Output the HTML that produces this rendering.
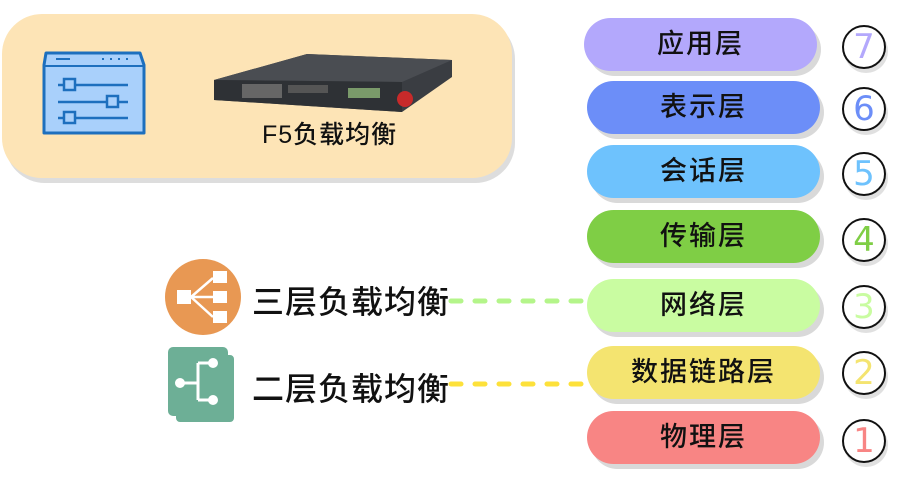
<!DOCTYPE html>
<html><head><meta charset="utf-8"><style>
body{margin:0;width:902px;height:478px;background:#fff;position:relative;overflow:hidden;font-family:"Liberation Sans","Noto Sans CJK SC",sans-serif}
.a{position:absolute}
.pill{position:absolute;width:233px;height:53px;border-radius:27px;box-shadow:4px 5px 0 #d9d9d9;text-align:center;line-height:53px;font-size:27px;font-weight:500;color:#111;letter-spacing:2px}
.c{position:absolute;width:40px;height:40px;border:2px solid #111;border-radius:50%;box-shadow:2px 4px 0 #e0e0e0;text-align:center;line-height:40px;font-size:34px;font-family:"DejaVu Sans",sans-serif;background:#fff}
.t{position:absolute;font-size:32px;font-weight:500;color:#111;letter-spacing:1px}
</style></head><body>
<div class="a" style="left:2px;top:14px;width:510px;height:164px;border-radius:40px;background:#fde4b6;box-shadow:3px 5px 0 #ddd"></div>
<svg class="a" style="left:40px;top:45px" width="112" height="95">
<path d="M6 8 L100 8 L104 20 L104 88 L4 88 L4 20 Z" fill="#a9d0fb" stroke="#1d6fbe" stroke-width="3" stroke-linejoin="round"/>
<path d="M4 21 L104 21" stroke="#1d6fbe" stroke-width="2"/>
<path d="M16 14h14M62 14h2M70 14h2M78 14h2M86 14h2" stroke="#1d6fbe" stroke-width="2"/>
<path d="M18 40h70M18 57h70M18 73h70" stroke="#1d6fbe" stroke-width="2.5"/>
<rect x="24" y="34" width="11" height="11" fill="#a9d0fb" stroke="#1d6fbe" stroke-width="2.5"/>
<rect x="67" y="51" width="11" height="11" fill="#a9d0fb" stroke="#1d6fbe" stroke-width="2.5"/>
<rect x="24" y="67" width="11" height="11" fill="#a9d0fb" stroke="#1d6fbe" stroke-width="2.5"/>
</svg>
<svg class="a" style="left:212px;top:52px" width="245" height="62">
<polygon points="2,28 95,2 240,8 240,25 190,60 2,48" fill="#3a3d42"/>
<polygon points="2,28 95,2 240,8 190,30" fill="#4a4d52"/>
<polygon points="2,28 190,30 190,60 2,48" fill="#2e3135"/>
<rect x="30" y="32" width="40" height="14" fill="#666"/><rect x="76" y="33" width="40" height="8" fill="#555"/>
<rect x="136" y="36" width="32" height="10" fill="#7a9a6a"/>
<circle cx="193" cy="47" r="8" fill="#c82a2a"/>
</svg>
<div class="a" style="left:262px;top:115px;font-size:25px;font-weight:500;color:#111;letter-spacing:1px">F5负载均衡</div>

<svg class="a" style="left:163px;top:258px" width="80" height="80">
<circle cx="40" cy="39" r="38" fill="#e89853"/>
<rect x="14" y="32" width="14" height="14" fill="#fff"/>
<rect x="50" y="13" width="14" height="12" fill="#fff"/><rect x="50" y="33" width="14" height="12" fill="#fff"/><rect x="50" y="53" width="14" height="12" fill="#fff"/>
<path d="M28 39 L50 20 M28 39 L50 39 M28 39 L50 59" stroke="#fff" stroke-width="2.5"/>
</svg>
<svg class="a" style="left:166px;top:345px" width="72" height="82">
<rect x="9" y="9" width="60" height="69" rx="5" fill="#6daf96"/>
<rect x="9" y="9" width="60" height="69" rx="5" fill="none" stroke="#fff" stroke-width="2"/>
<rect x="2" y="2" width="60" height="69" rx="5" fill="#6daf96"/>
<circle cx="14" cy="38" r="5" fill="#fff"/><circle cx="47" cy="18" r="5" fill="#fff"/><circle cx="47" cy="55" r="5" fill="#fff"/>
<path d="M14 38H32M32 18V55M32 18H47M32 55H47" stroke="#fff" stroke-width="3" fill="none"/>
</svg>
<div class="t" style="left:252px;top:277px">三层负载均衡</div>
<div class="t" style="left:252px;top:364px">二层负载均衡</div>
<svg class="a" style="left:445px;top:290px" width="145" height="105">
<path d="M6 11H140" stroke="#b4f58a" stroke-width="5" stroke-linecap="round" stroke-dasharray="10 14"/>
<path d="M6 94H140" stroke="#fde13a" stroke-width="5" stroke-linecap="round" stroke-dasharray="10 14"/>
</svg>

<div class="pill" style="left:584px;top:18px;background:#b3a8fc">应用层</div>
<div class="pill" style="left:587px;top:81px;background:#6c8ef8">表示层</div>
<div class="pill" style="left:587px;top:145px;background:#6ec2fd">会话层</div>
<div class="pill" style="left:587px;top:210px;background:#7fce45">传输层</div>
<div class="pill" style="left:587px;top:279px;background:#c9fca1">网络层</div>
<div class="pill" style="left:587px;top:346px;background:#f4e470">数据链路层</div>
<div class="pill" style="left:587px;top:411px;background:#f88584">物理层</div>

<div class="c" style="left:842px;top:25px;color:#b3a8fc">7</div>
<div class="c" style="left:842px;top:87px;color:#6c8ef8">6</div>
<div class="c" style="left:842px;top:152px;color:#6ec2fd">5</div>
<div class="c" style="left:842px;top:218px;color:#7fce45">4</div>
<div class="c" style="left:842px;top:285px;color:#c9fca1">3</div>
<div class="c" style="left:842px;top:351px;color:#f4e470">2</div>
<div class="c" style="left:842px;top:419px;color:#f88584">1</div>
</body></html>
